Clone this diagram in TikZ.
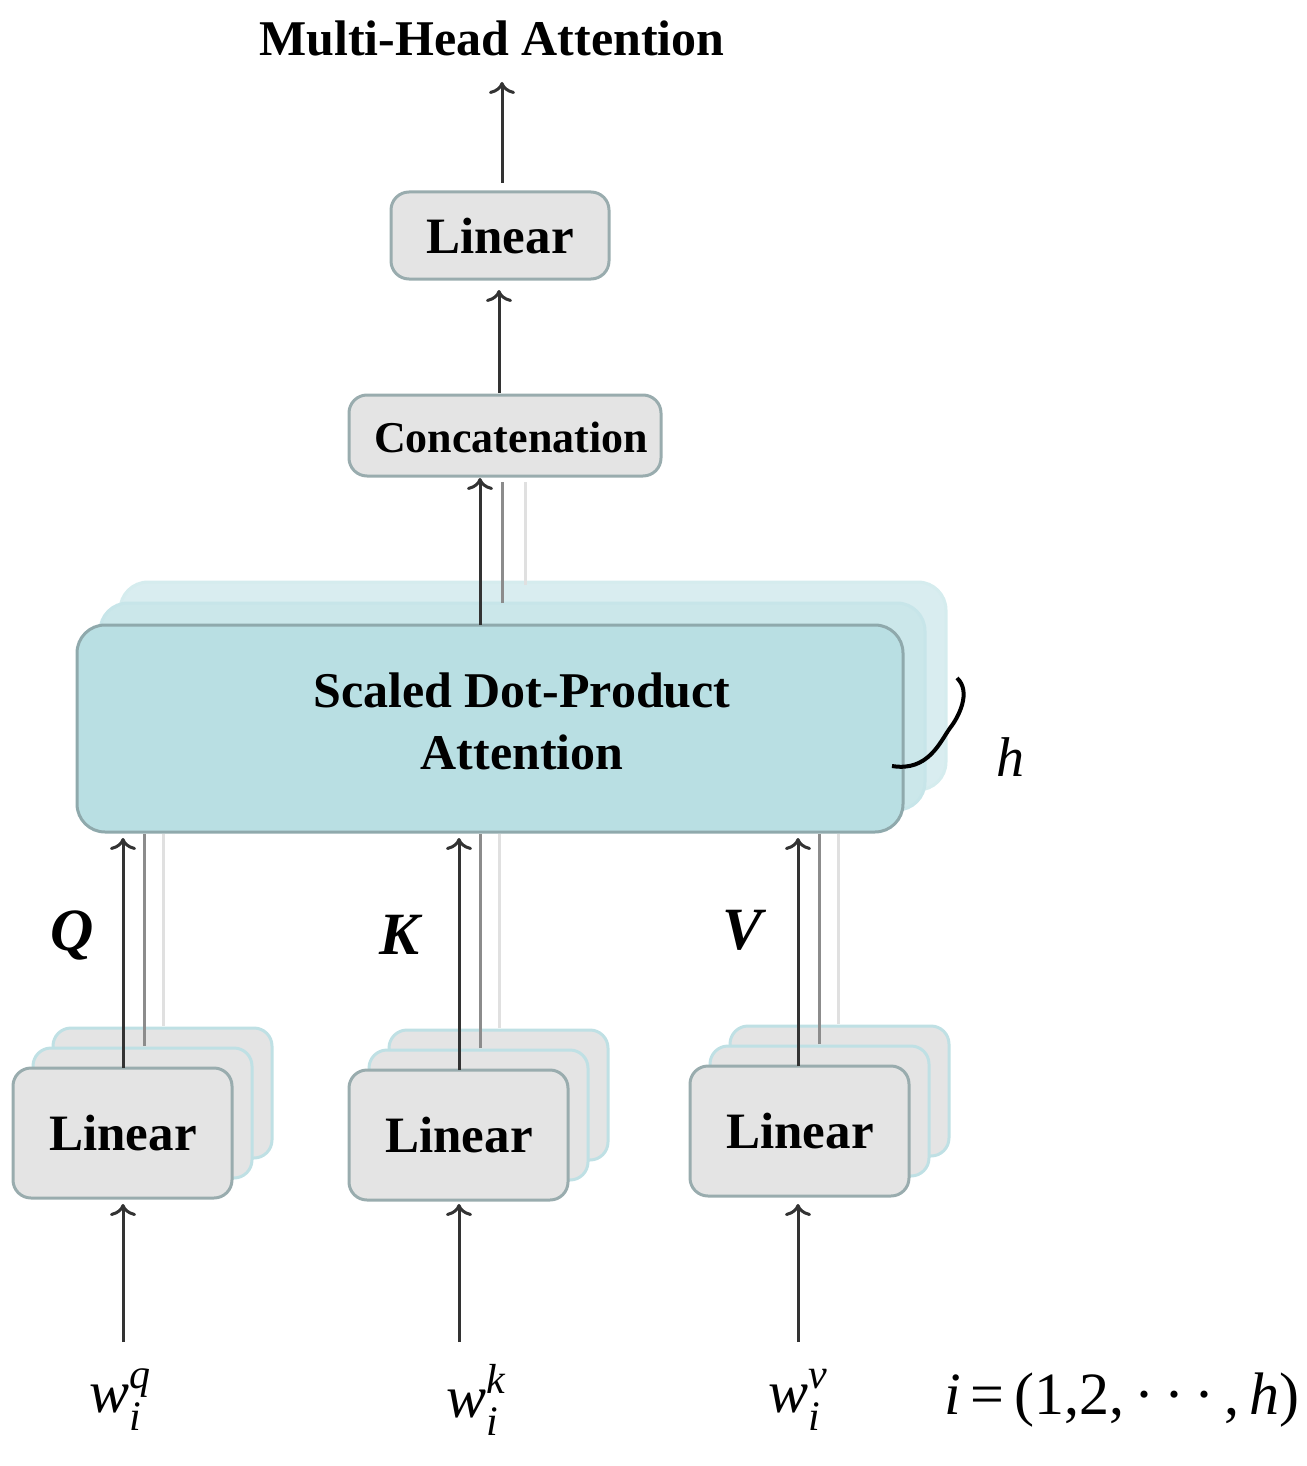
\documentclass[tikz,border=0pt]{standalone}
\usepackage{fontspec}
\setmainfont{Liberation Serif}
\usetikzlibrary{arrows.meta}
\definecolor{boxg}{HTML}{E4E4E4}
\definecolor{boxb}{HTML}{99ACAE}
\definecolor{sdp}{HTML}{B9DFE3}
\definecolor{sdpb}{HTML}{8FA9AC}
\definecolor{stackb}{HTML}{BFE0E4}
\newcommand{\wsym}[1]{\textit{w}\rlap{\raisebox{-18pt}{\fontsize{42}{44}\selectfont\itshape i}}\raisebox{24pt}{\fontsize{42}{44}\selectfont\itshape #1}}
\tikzset{
 x=1pt,y=-1pt,
 arr/.style={line width=3pt,draw=black!80,-{To[length=12pt,width=26pt,line width=3pt]}},
 garr/.style={line width=3pt,draw=black!45},
 larr/.style={line width=3pt,draw=black!12},
 lbox/.style={draw=boxb,fill=boxg,line width=3pt,rounded corners=18pt},
 sbox/.style={draw=stackb,fill=boxg,line width=3pt,rounded corners=18pt},
 lbl/.style={font=\fontsize{51}{55}\selectfont\bfseries},
 wl/.style={font=\fontsize{60}{64}\selectfont},
}
\begin{document}
\begin{tikzpicture}
\useasboundingbox (0,0) rectangle (1306,1466);
\node[font=\fontsize{50}{54}\selectfont\bfseries] (title) at (492,38) {Multi-Head Attention};
% top linear
\draw[lbox] (391,192) rectangle (609,279);
\node[lbl] (lin) at (500,236) {Linear};
\coordinate (a1) at (502,183); \coordinate (a1e) at (502,82);
\draw[arr] (a1) -- (a1e);
% concat
\draw[lbox] (349,395) rectangle (661,476);
\node[font=\fontsize{44}{48}\selectfont\bfseries] (cat) at (511,437) {Concatenation};
\coordinate (a2) at (499,393); \coordinate (a2e) at (499,290);
\draw[arr] (a2) -- (a2e);
% sdpa stack
\draw[draw=sdp!60,fill=sdp!55,line width=3pt,rounded corners=28pt] (120,582) rectangle (946,790);
\draw[draw=sdp!80,fill=sdp!75,line width=3pt,rounded corners=28pt] (100,603) rectangle (925,810);
\coordinate (c3) at (525,585); \coordinate (c3e) at (525,482);
\draw[larr] (c3) -- (c3e);
\coordinate (c2) at (502,603); \coordinate (c2e) at (502,482);
\draw[garr] (c2) -- (c2e);
\draw[draw=sdpb,fill=sdp,line width=3pt,rounded corners=28pt] (77,625) rectangle (903,832);
\node[font=\fontsize{50}{62}\selectfont\bfseries,align=center] (sdpa) at (522,721) {Scaled Dot-Product\\Attention};
\coordinate (c1) at (480,625); \coordinate (c1e) at (480,478);
\draw[arr] (c1) -- (c1e);
% brace
\draw[line width=4pt] (957,678) .. controls (972,692) and (958,718) .. (950,728) .. controls (940,742) and (928,772) .. (892,766);
\node[font=\fontsize{56}{60}\selectfont\itshape] (h) at (1010,757) {h};
% bottom linears
\foreach \n/\x/\y/\lx/\lab/\ly in {q/13/1068/72/Q/935, k/349/1070/400/K/935, v/690/1066/742/V/930}{
  \draw[sbox] (\x+40,\y-40) rectangle (\x+259,\y+90);
  \draw[sbox] (\x+20,\y-20) rectangle (\x+239,\y+110);
  \draw[lbox] (\x,\y) rectangle (\x+219,\y+130);
  \node[lbl] (lin\n) at (\x+110,\y+65) {Linear};
  \node[font=\fontsize{60}{64}\selectfont\bfseries\itshape] (lab\n) at (\lx,\ly) {\lab};
}
\foreach \x/\y in {123/1068, 459/1070, 798/1066}{
  \coordinate (s3) at (\x+40,\y-42); \coordinate (e3) at (\x+40,834);
  \draw[larr] (s3) -- (e3);
  \coordinate (s2) at (\x+21,\y-22); \coordinate (e2) at (\x+21,834);
  \draw[garr] (s2) -- (e2);
  \coordinate (s1) at (\x,\y); \coordinate (e1) at (\x,838);
  \draw[arr] (s1) -- (e1);
  \coordinate (b1) at (\x,1342); \coordinate (b1e) at (\x,1204);
  \draw[arr] (b1) -- (b1e);
}
\node[wl] (wq) at (120,1400) {\wsym{q}};
\node[wl] (wk) at (476,1400) {\wsym{k}};
\node[wl] (wv) at (798,1400) {\wsym{v}};
\node[wl] (ii) at (1122,1400) {\textit{i}\,=\,(1,2,\,·\,·\,·\,,\,\textit{h})};
\end{tikzpicture}
\end{document}
